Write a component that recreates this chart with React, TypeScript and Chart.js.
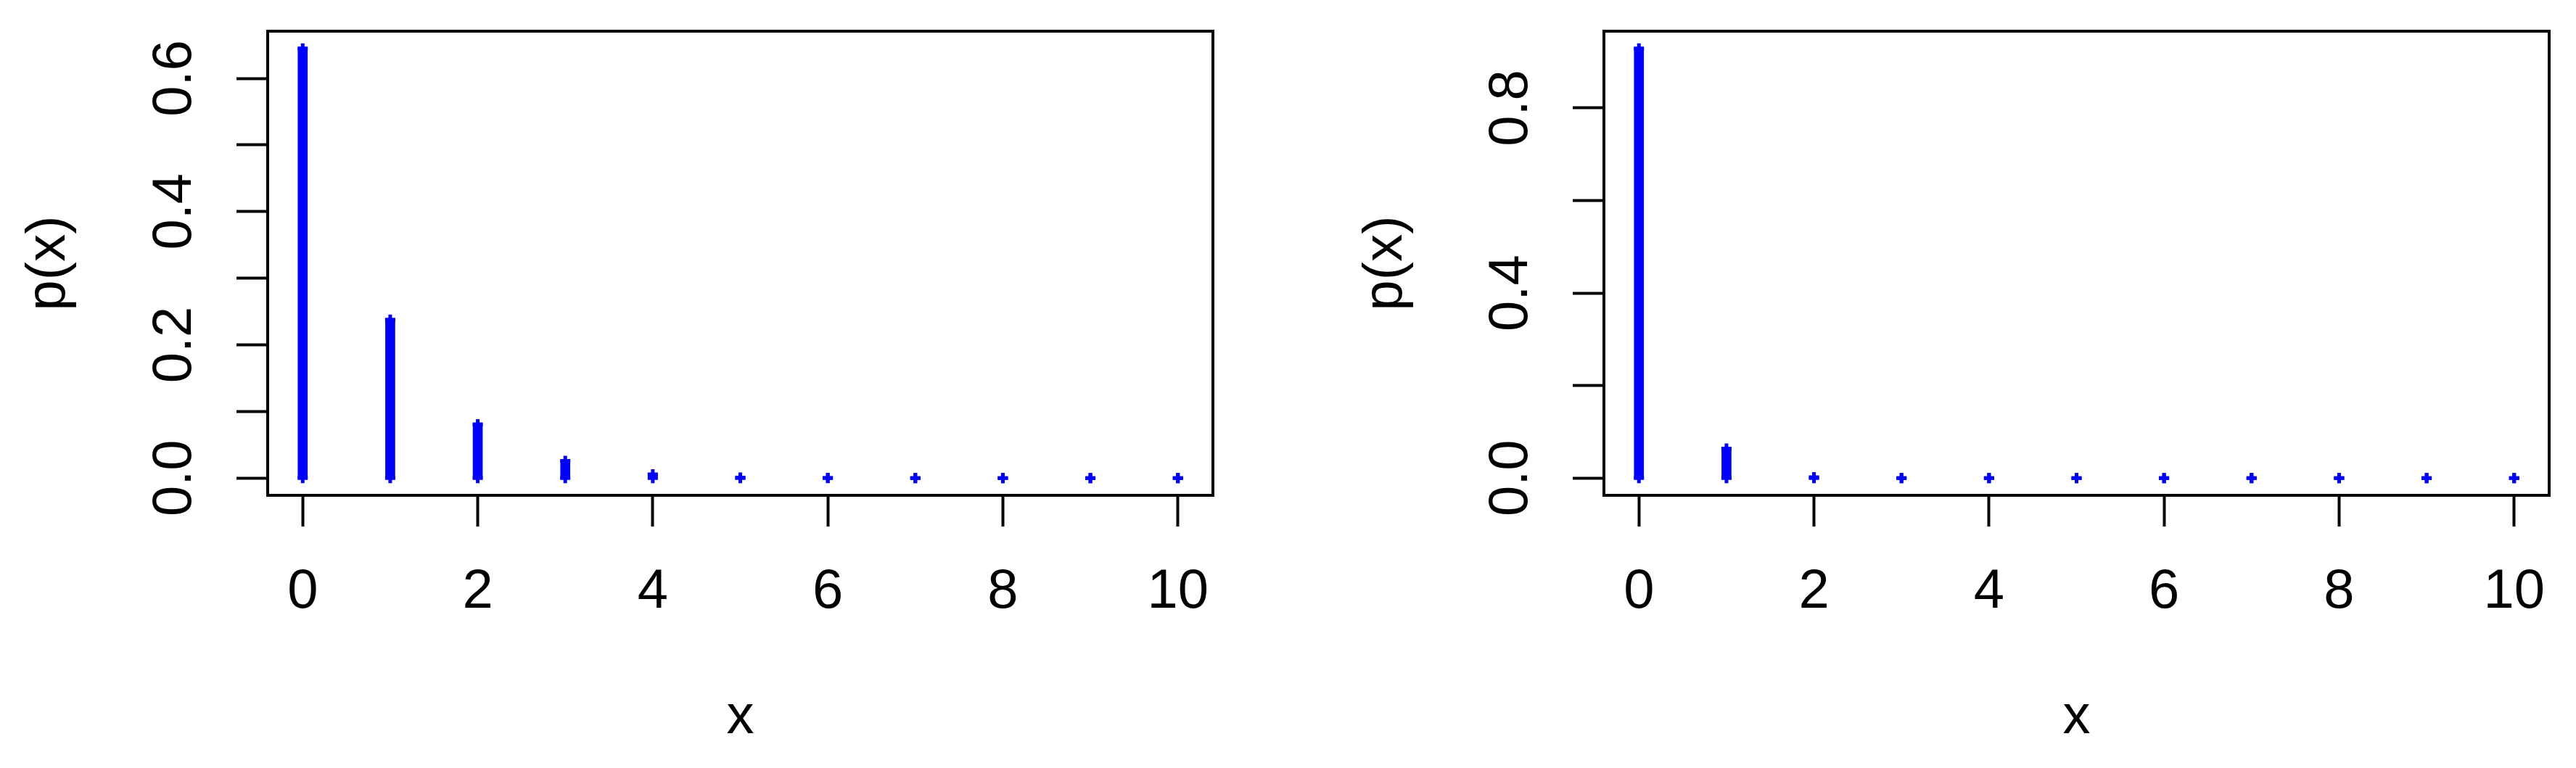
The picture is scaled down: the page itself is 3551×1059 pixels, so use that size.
import React, { useEffect, useRef } from "react";
import { Chart, registerables } from "chart.js";

Chart.register(...registerables);

// ---- data ----
const xValues = [0, 1, 2, 3, 4, 5, 6, 7, 8, 9, 10];
const leftProbabilities = [0.645, 0.238, 0.081, 0.026, 0.0057, 0.001, 0.0002, 0, 0, 0, 0];
const rightProbabilities = [0.929, 0.064, 0.002, 0.0001, 0, 0, 0, 0, 0, 0, 0];
const xTickValues = [0, 2, 4, 6, 8, 10];
const xTickLabels = ["0", "2", "4", "6", "8", "10"];
const leftYTickValues = [0, 0.1, 0.2, 0.3, 0.4, 0.5, 0.6];
const leftYTickLabels = ["0.0", "", "0.2", "", "0.4", "", "0.6"];
const rightYTickValues = [0, 0.2, 0.4, 0.6, 0.8];
const rightYTickLabels = ["0.0", "", "0.4", "", "0.8"];
const xAxisTitle = "x";
const yAxisTitle = "p(x)";

const BLUE = "#0000FF";
const FONT = "'Liberation Sans', Arial, sans-serif";
const CANVAS_H = 1059;
const AREA_TOP = 43;
const AREA_BOTTOM = 683;

const boxPlugin = {
  id: "box",
  afterDraw(chart: any) {
    const { ctx, chartArea } = chart;
    ctx.save();
    ctx.strokeStyle = "#000";
    ctx.lineWidth = 4;
    ctx.strokeRect(chartArea.left, chartArea.top, chartArea.right - chartArea.left, chartArea.bottom - chartArea.top);
    ctx.restore();
  },
};

type PanelProps = {
  values: number[];
  yTicks: number[];
  yLabels: string[];
  width: number;
  left: number;
  axisWidth: number;
  rightPadding: number;
  yTitlePadding: number;
};

function Panel({ values, yTicks, yLabels, width, left, axisWidth, rightPadding, yTitlePadding }: PanelProps) {
  const ref = useRef<HTMLCanvasElement | null>(null);
  useEffect(() => {
    if (!ref.current) return;
    const maxV = Math.max(...values);
    const minV = 0;
    const xMin = Math.min(...xValues);
    const xMax = Math.max(...xValues);
    const xPad = 0.04 * (xMax - xMin);
    const yPad = 0.04 * (maxV - minV);
    const chart = new Chart(ref.current, {
      type: "bar",
      data: {
        datasets: [
          {
            type: "bar",
            data: xValues.map((x, i) => ({ x, y: values[i] })),
            backgroundColor: BLUE,
            borderWidth: 0,
            barThickness: 13,
          } as any,
          {
            type: "scatter",
            data: xValues.flatMap((x, i) => [
              { x, y: 0 },
              { x, y: values[i] },
            ]),
            pointStyle: "cross",
            pointRadius: 7,
            pointHoverRadius: 7,
            pointBorderWidth: 5,
            borderColor: BLUE,
            backgroundColor: BLUE,
          } as any,
        ],
      },
      options: {
        animation: false,
        responsive: false,
        devicePixelRatio: 1,
        events: [],
        layout: { padding: { left: 0, top: AREA_TOP, right: rightPadding, bottom: 0 } },
        plugins: { legend: { display: false }, tooltip: { enabled: false } },
        scales: {
          x: {
            type: "linear",
            min: xMin - xPad,
            max: xMax + xPad,
            offset: false,
            border: { display: false },
            grid: {
              offset: false,
              drawOnChartArea: false,
              drawTicks: true,
              tickLength: 43,
              tickWidth: 4,
              tickColor: "#000",
            },
            ticks: {
              autoSkip: false,
              minRotation: 0,
              maxRotation: 0,
              padding: 45,
              color: "#000",
              font: { family: FONT, size: 76 },
              callback: (_v: any, i: number) => xTickLabels[i],
            },
            afterBuildTicks: (s: any) => {
              s.ticks = xTickValues.map((value) => ({ value }));
            },
            afterFit: (s: any) => {
              s.height = CANVAS_H - AREA_BOTTOM;
              s.paddingLeft = 0;
              s.paddingRight = 0;
            },
            title: {
              display: true,
              text: xAxisTitle,
              color: "#000",
              font: { family: FONT, size: 76, lineHeight: 1.2 },
              padding: { top: 0, bottom: 23 },
            },
          } as any,
          y: {
            type: "linear",
            min: minV - yPad,
            max: maxV + yPad,
            beginAtZero: false,
            border: { display: false },
            grid: {
              drawOnChartArea: false,
              drawTicks: true,
              tickLength: 43,
              tickWidth: 4,
              tickColor: "#000",
            },
            ticks: {
              autoSkip: false,
              minRotation: 90,
              maxRotation: 90,
              crossAlign: "center",
              padding: 31,
              color: "#000",
              font: { family: FONT, size: 76 },
              callback: (_v: any, i: number) => yLabels[i],
            },
            afterBuildTicks: (s: any) => {
              s.ticks = yTicks.map((value) => ({ value }));
            },
            afterFit: (s: any) => {
              s.width = axisWidth;
              s.paddingTop = 0;
              s.paddingBottom = 0;
            },
            title: {
              display: true,
              text: yAxisTitle,
              color: "#000",
              font: { family: FONT, size: 76, lineHeight: 1.2 },
              padding: { top: yTitlePadding, bottom: 0 },
            },
          } as any,
        },
      } as any,
      plugins: [boxPlugin],
    });
    return () => chart.destroy();
  }, []);
  return (
    <canvas
      ref={ref}
      width={width}
      height={CANVAS_H}
      style={{ position: "absolute", left, top: 0, width, height: CANVAS_H, display: "block" }}
    />
  );
}

export default function App() {
  return (
    <div style={{ position: "fixed", left: 0, top: 0, width: 3551, height: CANVAS_H, background: "#fff", overflow: "hidden" }}>
      <Panel
        values={leftProbabilities}
        yTicks={leftYTickValues}
        yLabels={leftYTickLabels}
        width={1776}
        left={0}
        axisWidth={369}
        rightPadding={104}
        yTitlePadding={22}
      />
      <Panel
        values={rightProbabilities}
        yTicks={rightYTickValues}
        yLabels={rightYTickLabels}
        width={1775}
        left={1776}
        axisWidth={435}
        rightPadding={37}
        yTitlePadding={89}
      />
    </div>
  );
}
